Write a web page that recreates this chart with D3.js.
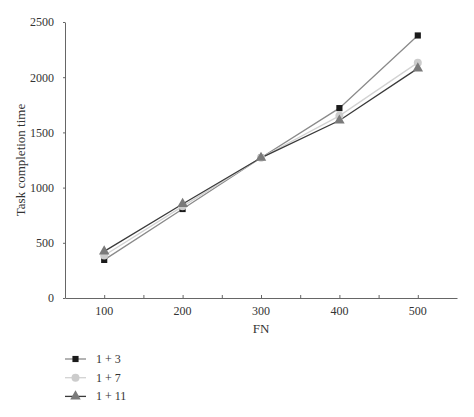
<!DOCTYPE html>
<html>
<head>
<meta charset="utf-8">
<script src="https://cdn.jsdelivr.net/npm/d3@7"></script>
<style>
  body { margin: 0; background: #fff; }
  text { font-family: "Liberation Serif", "DejaVu Serif", serif; fill: #333; }
  .axis path, .axis line { stroke: #666; }
</style>
</head>
<body>
<div class="chart"></div>
<script>
// data
var fnValues = [100, 200, 300, 400, 500];
var seriesNames = ["1 + 3", "1 + 7", "1 + 11"];
var time13 = [345, 806, 1270, 1720, 2378];
var time17 = [385, 830, 1270, 1650, 2132];
var time111 = [422, 852, 1270, 1608, 2080];
var yTicks = [0, 500, 1000, 1500, 2000, 2500];
var xTicks = [100, 200, 300, 400, 500];

var svgWidth = 474;
var svgHeight = 417;

var margin = { top: 22, right: 17, bottom: 119, left: 65 };
var width = svgWidth - margin.left - margin.right;
var height = svgHeight - margin.top - margin.bottom;

var svg = d3.select(".chart")
  .append("svg")
  .attr("width", svgWidth)
  .attr("height", svgHeight);

var chartGroup = svg.append("g")
  .attr("transform", `translate(${margin.left}, ${margin.top})`);

var xScale = d3.scaleLinear().domain([50, 550]).range([0, width]);
var yScale = d3.scaleLinear().domain([0, 2500]).range([height, 0]);

// x axis with minor ticks every 50
chartGroup.append("g")
  .attr("class", "axis")
  .attr("transform", `translate(0, ${height})`)
  .call(d3.axisBottom(xScale).tickValues(d3.range(100, 550, 50)).tickSize(-3).tickSizeOuter(0).tickFormat(""))
  .call(g => g.selectAll("text").remove());

chartGroup.append("g")
  .attr("transform", `translate(0, ${height})`)
  .selectAll("text")
  .data(xTicks)
  .enter()
  .append("text")
  .attr("x", d => xScale(d))
  .attr("y", 17)
  .attr("text-anchor", "middle")
  .style("font-size", "12px")
  .text(d => d);

// y axis
chartGroup.append("g")
  .attr("class", "axis")
  .call(d3.axisLeft(yScale).tickValues(yTicks).tickFormat(d3.format("d")).tickSize(2).tickSizeOuter(0).tickPadding(9))
  .call(g => g.selectAll("text").style("font-size", "12px").style("font-family", "Liberation Serif").attr("fill", "#333"));

// axis labels
chartGroup.append("text")
  .attr("transform", "rotate(-90)")
  .attr("x", -height / 2)
  .attr("y", -40)
  .attr("text-anchor", "middle")
  .style("font-size", "13px")
  .text("Task completion time");

chartGroup.append("text")
  .attr("x", xScale(300))
  .attr("y", height + 35)
  .attr("text-anchor", "middle")
  .style("font-size", "13px")
  .text("FN");

var series = [
  { name: seriesNames[0], values: time13, line: "#8a8a8a", marker: "#1a1a1a", shape: d3.symbolSquare, size: 38 },
  { name: seriesNames[1], values: time17, line: "#d2d2d2", marker: "#cccccc", shape: d3.symbolCircle, size: 50 },
  { name: seriesNames[2], values: time111, line: "#3a3a3a", marker: "#7a7a7a", shape: d3.symbolTriangle, size: 48 }
];

var line = d3.line()
  .x((d, i) => xScale(fnValues[i]))
  .y(d => yScale(d));

series.forEach(function(s) {
  chartGroup.append("path")
    .datum(s.values)
    .attr("fill", "none")
    .attr("stroke", s.line)
    .attr("stroke-width", 1.3)
    .attr("d", line);
});

series.forEach(function(s) {
  chartGroup.selectAll(null)
    .data(s.values)
    .enter()
    .append("path")
    .attr("transform", (d, i) => `translate(${xScale(fnValues[i])}, ${yScale(d)})`)
    .attr("d", d3.symbol().type(s.shape).size(s.size))
    .attr("fill", s.marker);
});

// legend
var legend = svg.append("g").attr("transform", "translate(65, 359)");
series.forEach(function(s, i) {
  var row = legend.append("g").attr("transform", `translate(0, ${i * 18.7})`);
  row.append("line")
    .attr("x1", 0).attr("x2", 21)
    .attr("stroke", s.line)
    .attr("stroke-width", 1.3);
  row.append("path")
    .attr("transform", "translate(10.5, 0)")
    .attr("d", d3.symbol().type(s.shape).size(s.size))
    .attr("fill", s.marker);
  row.append("text")
    .attr("x", 31)
    .attr("y", 4)
    .style("font-size", "12px")
    .text(s.name);
});
</script>
</body>
</html>
